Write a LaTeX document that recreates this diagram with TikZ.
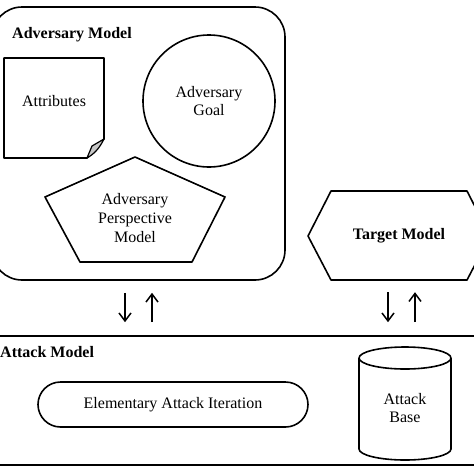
\documentclass[tikz,border=0pt]{standalone}
\usepackage{fontspec}
\setmainfont{Liberation Serif}
\usetikzlibrary{arrows.meta,calc}
\begin{document}
\begin{tikzpicture}[x=1pt,y=-1pt, line join=round,
  shapeline/.style={draw, line width=1.6pt},
  labeltext/.style={font=\fontsize{16}{18.8}\selectfont, align=center, inner sep=0pt},
  titletext/.style={font=\fontsize{16}{18.8}\selectfont\bfseries, inner sep=0pt, anchor=west},
  arr/.style={line width=1.5pt, -{Straight Barb[length=8pt,width=12pt]}}]
\fill[white] (0,0) rectangle (474,474);
\clip (0,0) rectangle (474,474);
% outer boxes
\node[shapeline, rounded corners=30pt, minimum width=293pt, minimum height=273pt, inner sep=0pt] (adv) at (138.5,143.5) {};
\node[shapeline, minimum width=494pt, minimum height=129pt, inner sep=0pt] (atk) at (237,400.5) {};
\node[titletext] (advtitle) at (12,35) {Adversary Model};
\node[titletext] (atktitle) at (0,352) {Attack Model};
% attributes note
\draw[shapeline] (4,58) -- (104,58) -- (104,139) -- (87,158) -- (4,158) -- cycle;
\draw[line width=1.2pt, fill=gray!45] (87,158) -- (92,146) -- (104,139) .. controls (99,149) and (94,154) .. (87,158) -- cycle;
\node[labeltext] (attr) at (54,101) {Attributes};
% goal
\node[shapeline, circle, minimum size=132pt, labeltext] (goal) at (209,101) {Adversary\\Goal};
% perspective pentagon
\draw[shapeline] (135,157) -- (225,197) -- (192,262) -- (80,262) -- (45,197) -- cycle;
\node[labeltext] (persp) at (135,218) {Adversary\\Perspective\\Model};
% target model
\node[minimum width=182pt, minimum height=89pt, inner sep=0pt] (target) at (399,235.5) {};
\draw[shapeline] (308,236) -- (331,191) -- (467,191) -- (490,236) -- (467,280) -- (331,280) -- cycle;
\node[labeltext, font=\fontsize{16}{18.8}\selectfont\bfseries] (targettext) at (399,236) {Target Model};
% elementary attack iteration
\node[shapeline, rounded corners=22.5pt, minimum width=270pt, minimum height=45pt, labeltext] (iter) at (173,404.5) {Elementary Attack Iteration};
% attack base cylinder
\draw[shapeline] (405,358) ellipse [x radius=46, y radius=11];
\draw[shapeline] (359,358) -- (359,449) arc[start angle=180, end angle=0, x radius=46, y radius=11] -- (451,358);
\node[labeltext] (base) at (405,408) {Attack\\Base};
% arrows
\coordinate (c1) at (125,0);
\coordinate (c2) at (152,0);
\coordinate (c3) at (388,0);
\coordinate (c4) at (415,0);
\draw[arr, shorten <=12pt, shorten >=13pt] (adv.south -| c1) -- (atk.north -| c1);
\draw[arr, shorten <=13pt, shorten >=12pt] (atk.north -| c2) -- (adv.south -| c2);
\draw[arr, shorten <=12pt, shorten >=13pt] (target.south -| c3) -- (atk.north -| c3);
\draw[arr, shorten <=13pt, shorten >=12pt] (atk.north -| c4) -- (target.south -| c4);
\end{tikzpicture}
\end{document}
